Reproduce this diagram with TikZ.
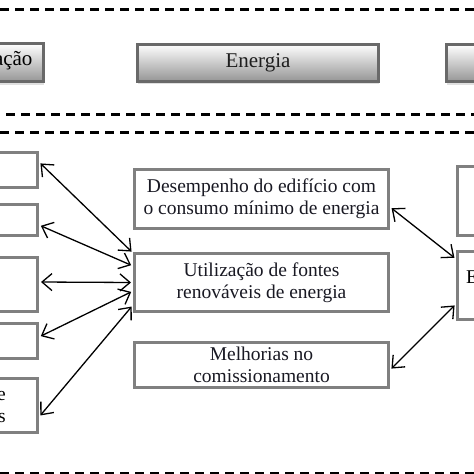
\documentclass[tikz,border=0pt]{standalone}
\usepackage{fontspec}
\setmainfont{Liberation Serif}
\usetikzlibrary{arrows.meta,shadows}

\tikzset{
  hdrbox/.style={rectangle, draw={rgb,255:red,105;green,105;blue,105}, line width=3pt,
    top color=white, bottom color={rgb,255:red,150;green,150;blue,150},
    drop shadow={shadow xshift=0pt, shadow yshift=-3pt, fill=gray!40, opacity=0.6},
    inner sep=0pt, font=\fontsize{21}{24}\selectfont, text={rgb,255:red,30;green,30;blue,30}},
  itembox/.style={rectangle, draw={rgb,255:red,128;green,128;blue,128}, line width=3pt,
    fill=white, inner sep=0pt, align=center, text={rgb,255:red,25;green,25;blue,35}},
  link/.style={{Straight Barb[length=10pt,width=17pt]}-{Straight Barb[length=10pt,width=17pt]},
    line width=1.3pt, shorten <=2pt, shorten >=2pt},
  sep/.style={line width=3pt, dash pattern=on 9pt off 6pt}
}

\begin{document}
\begin{tikzpicture}[x=1pt, y=-1pt, font=\fontsize{19.5}{22}\selectfont]
\clip (0,0) rectangle (474,474);
\fill[white] (0,0) rectangle (474,474);
% separators:
\draw[sep] (0,9) -- (474,9);
\draw[sep] (6,114) -- (474,114);
\draw[sep] (0,132) -- (474,132);
\draw[sep] (0,473) -- (474,473);
% top row:
\node[hdrbox, minimum width=102pt, minimum height=38pt] (hleft) at (-7.5,62.5) {};
\node[anchor=east, font=\fontsize{21}{24}\selectfont] (hlefttxt) at (36,61) {ação};
\node[hdrbox, minimum width=241pt, minimum height=37pt] (henergia) at (258,62.5) {Energia};
\node[hdrbox, minimum width=207pt, minimum height=37pt] (hright) at (550,63) {};
% left column:
\node[itembox, minimum width=147pt, minimum height=35pt] (l1) at (-36,170) {};
\node[itembox, minimum width=147pt, minimum height=31pt] (l2) at (-36,220) {};
\node[itembox, minimum width=147pt, minimum height=54pt] (l3) at (-36,284.5) {};
\node[itembox, minimum width=147pt, minimum height=35pt] (l4) at (-36,341) {};
\node[itembox, minimum width=147pt, minimum height=54pt] (l5) at (-36,405.5) {};
\node[anchor=east, align=right, inner sep=0pt] (l5txt) at (6,407) {e\\s};
% middle column:
\node[itembox, minimum width=254pt, minimum height=59pt] (desemp) at (261.5,199) {Desempenho do edifício com\\o consumo mínimo de energia};
\node[itembox, minimum width=254pt, minimum height=58pt] (fontes) at (261.5,282.5) {Utilização de fontes\\renováveis de energia};
\node[itembox, minimum width=254pt, minimum height=45pt] (comiss) at (261.5,365) {Melhorias no\\comissionamento};
% right column:
\node[itembox, minimum width=145pt, minimum height=69pt] (r1) at (530,201) {};
\node[itembox, minimum width=145pt, minimum height=68pt] (r2) at (530,285.5) {};
\node[anchor=west, inner sep=0pt] (r2txt) at (466,277) {E};
% links:
\draw[link] ([yshift=8pt]l1.east) -- ([yshift=29.5pt]fontes.west);
\draw[link] ([yshift=-5pt]l2.east) -- ([yshift=16.5pt]fontes.west);
\draw[link] ([yshift=2.5pt]l3.east) -- (fontes.west);
\draw[link] ([yshift=4pt]l4.east) -- ([yshift=-8.5pt]fontes.west);
\draw[link] ([yshift=-11.5pt]l5.east) -- ([yshift=-22.5pt]fontes.west);
\draw[link] ([yshift=-8pt]desemp.east) -- ([yshift=26.5pt]r2.west);
\draw[link] ([yshift=-5pt]comiss.east) -- ([yshift=-18.5pt]r2.west);
\end{tikzpicture}
\end{document}
